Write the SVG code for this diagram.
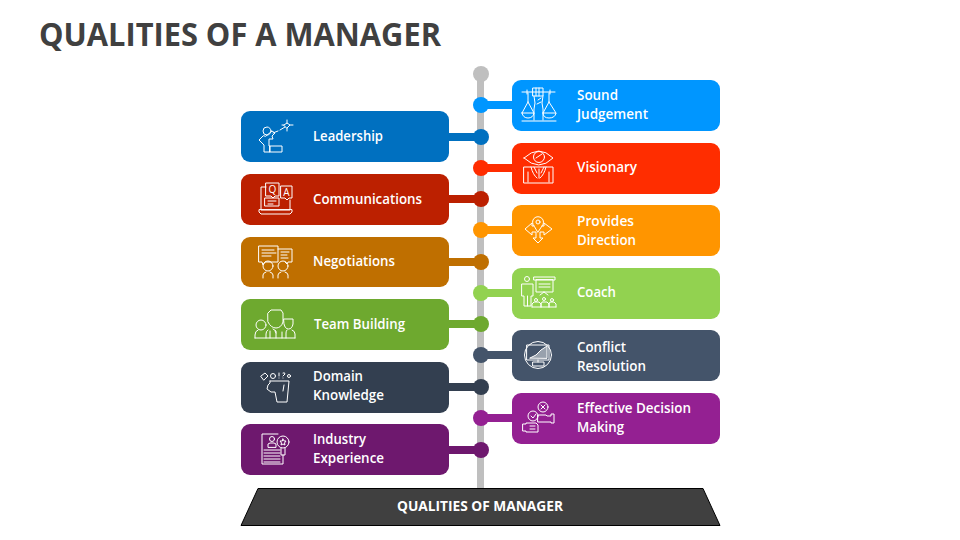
<svg xmlns="http://www.w3.org/2000/svg" width="960" height="540" viewBox="0 0 960 540">
<style>
.t{font-family:"Open Sans","Liberation Sans",sans-serif;font-size:14.5px;font-weight:600;fill:#fff}
.g{font-family:"Open Sans","Liberation Sans",sans-serif;font-size:10px;fill:#fff;text-anchor:middle}
.i{fill:none;stroke:#fff;stroke-width:1;stroke-linejoin:round;stroke-linecap:round}
.title{font-family:"Open Sans","Liberation Sans",sans-serif;font-size:33px;font-weight:700;fill:#404040}
.base{font-family:"Open Sans","Liberation Sans",sans-serif;font-size:14px;font-weight:700;fill:#fff}
.c{stroke-width:8;fill:none}
</style>
<rect width="960" height="540" fill="#fff"/>
<text class="title" x="39" y="46" textLength="402" lengthAdjust="spacingAndGlyphs">QUALITIES OF A MANAGER</text>
<g id="pole"><rect x="477" y="74" width="7" height="416" fill="#bfbfbf"/><circle cx="481" cy="74" r="8" fill="#bfbfbf"/></g>
<g id="connectors">
<path class="c" stroke="#0096ff" d="M481 105H512"/><circle cx="481" cy="105" r="8" fill="#0096ff"/>
<path class="c" stroke="#0070c0" d="M449 137H481"/><circle cx="481" cy="137" r="8" fill="#0070c0"/>
<path class="c" stroke="#ff2d00" d="M481 168H512"/><circle cx="481" cy="168" r="8" fill="#ff2d00"/>
<path class="c" stroke="#bc2000" d="M449 199H481"/><circle cx="481" cy="199" r="8" fill="#bc2000"/>
<path class="c" stroke="#ff9500" d="M481 230H512"/><circle cx="481" cy="230" r="8" fill="#ff9500"/>
<path class="c" stroke="#bf6f00" d="M449 262H481"/><circle cx="481" cy="262" r="8" fill="#bf6f00"/>
<path class="c" stroke="#92d250" d="M481 293H512"/><circle cx="481" cy="293" r="8" fill="#92d250"/>
<path class="c" stroke="#6ea92f" d="M449 324H481"/><circle cx="481" cy="324" r="8" fill="#6ea92f"/>
<path class="c" stroke="#44546a" d="M481 355H512"/><circle cx="481" cy="355" r="8" fill="#44546a"/>
<path class="c" stroke="#333f50" d="M449 387H481"/><circle cx="481" cy="387" r="8" fill="#333f50"/>
<path class="c" stroke="#942092" d="M481 418H512"/><circle cx="481" cy="418" r="8" fill="#942092"/>
<path class="c" stroke="#6e186e" d="M449 450H481"/><circle cx="481" cy="450" r="8" fill="#6e186e"/>
</g>
<g id="sound-judgement"><rect x="512" y="80" width="208" height="51" rx="9" fill="#0096ff"/>
<g class="i"><path d="M522 92H555M527 90V94M550 90V94M533 88h10v8h-10zM536 88v8M539 88v8M534 96l1 7-1 6v11M543 96l-1 7 1 6v11M528 93v9M528 102l-6 11M528 102l6 11M549 93v9M549 102l-6 11M549 102l7 11M522 113h12q-1 5-6 5t-6-5zM543 113h13q-1 5-7 5t-6-5zM522 121H556M538 100l3-2M537 104l4-2"/></g>
<text class="t" x="577" y="100" textLength="41" lengthAdjust="spacingAndGlyphs">Sound</text><text class="t" x="577" y="119" textLength="71" lengthAdjust="spacingAndGlyphs">Judgement</text></g>
<g id="leadership"><rect x="241" y="111" width="208" height="51" rx="9" fill="#0070c0"/>
<g class="i"><circle cx="267" cy="131" r="4"/><path d="M273 133l5-2M280 130l5-3M263 136l-4 4 5 5v7h6v-6h-1v-7h4l-1-3 3-3-3-2-6 5zM270 146h12v6h-12z"/><path d="M284 125l3-2 3 2-3 3zM287 120v3M287 128v3M282 125h2M290 125h3"/></g>
<text class="t" x="313" y="141" textLength="70" lengthAdjust="spacingAndGlyphs">Leadership</text></g>
<g id="visionary"><rect x="512" y="143" width="208" height="51" rx="9" fill="#ff2d00"/>
<g class="i"><path d="M524 158q15-14 29 0q-14 14-29 0z"/><circle cx="539" cy="157" r="5.500"/><path d="M536 158l3-2 3-2"/><path d="M524 167h29v16h-29zM531 167q2 8 6 11M546 167q-2 8-6 11M539 169v9M534 167l3 6M544 167l-3 6M528 172v10M549 172v10"/></g>
<text class="t" x="577" y="172" textLength="60" lengthAdjust="spacingAndGlyphs">Visionary</text></g>
<g id="communications"><rect x="241" y="174" width="208" height="51" rx="9" fill="#bc2000"/>
<g class="i"><path d="M266 187h-5v23h29v-10M259 210v2l2 2h29l2-2v-2z"/><path d="M266 183h13v13h-4l-2 2-2-2h-5zM281 186h11v12h-3l-2 2-2-2h-4z"/><path d="M265 198h14v8h-14zM268 201h8M268 204h5"/></g>
<text class="g" x="272.500" y="193">Q</text><text class="g" x="286.500" y="196">A</text>
<text class="t" x="313" y="204" textLength="109" lengthAdjust="spacingAndGlyphs">Communications</text></g>
<g id="provides-direction"><rect x="512" y="205" width="208" height="51" rx="9" fill="#ff9500"/>
<g class="i"><circle cx="538" cy="222" r="2"/><path d="M534 226a5.500 5.500 0 1 1 8 0l-4 6zM534 226h-2v-3l-7 6 7 6v-3h4v6h-3l5 5 5-5h-3v-6h4v3l8-6-8-6v3h-2"/></g>
<text class="t" x="577" y="226" textLength="57" lengthAdjust="spacingAndGlyphs">Provides</text><text class="t" x="577" y="245" textLength="59" lengthAdjust="spacingAndGlyphs">Direction</text></g>
<g id="negotiations"><rect x="241" y="237" width="208" height="50" rx="9" fill="#bf6f00"/>
<g class="i"><path d="M259 246h19v16h-13l-2 3-1-3h-3zM262 250h12M262 253h14M262 256h9M278 249h14v13h-4l-1 2-2-2M281 252h8M281 255h6M281 258h7"/><circle cx="268" cy="266" r="5"/><circle cx="283" cy="266" r="5"/><path d="M263 278v-3q0-2 3-3M273 278v-3q0-2-3-3M278 278v-3q0-2 3-3M288 278v-3q0-2-3-3"/></g>
<text class="t" x="313" y="266" textLength="82" lengthAdjust="spacingAndGlyphs">Negotiations</text></g>
<g id="coach"><rect x="512" y="268" width="208" height="51" rx="9" fill="#92d250"/>
<g class="i"><circle cx="527" cy="279" r="2.500"/><path d="M522 284h11v12h-2v10h-7v-10h-2zM527.500 296v10M534 277h21v3h-21zM536 280v12h17v-12zM539 284h11M539 287h11M544 292l-4 3M544 292l4 3M532 307v-3l2-2h5l2 2v3M541 307v-3l1-2h5l2 2v3M549 307v-3l1-2h4l2 2v3M532 307h24"/><circle cx="536" cy="300" r="1.500"/><circle cx="544" cy="299" r="1.500"/><circle cx="552" cy="300" r="1.500"/></g>
<text class="t" x="577" y="297" textLength="39" lengthAdjust="spacingAndGlyphs">Coach</text></g>
<g id="team-building"><rect x="241" y="299" width="208" height="51" rx="9" fill="#6ea92f"/>
<g class="i"><circle cx="261" cy="325" r="5"/><path d="M268 313l3-3h10l2 3v9q-2 6-7 6t-8-6zM284 319h9v5q-1 5-4.500 5t-4.500-5zM255 338v-3q0-4 3-5M266 338v-4q0-3 2-4M270 338v-7M276 338v-7l-3-2M282 338v-6M286 338v-5q0-2 1-3M295 338v-4q0-3-3-4M255 338h40M275 331l1 2"/></g>
<text class="t" x="314" y="329" textLength="91" lengthAdjust="spacingAndGlyphs">Team Building</text></g>
<g id="conflict-resolution"><rect x="512" y="330" width="208" height="51" rx="9" fill="#44546a"/>
<g class="i"><circle cx="538" cy="355" r="13.500"/><path d="M527 345h22v15h-22zM538 360v2M533 362h11v4h-11z"/><path d="M530 358l6-3 5-5 6-4v12z" fill="#fff" fill-opacity=".45"/></g>
<text class="t" x="577" y="352" textLength="49" lengthAdjust="spacingAndGlyphs">Conflict</text><text class="t" x="577" y="371" textLength="69" lengthAdjust="spacingAndGlyphs">Resolution</text></g>
<g id="domain-knowledge"><rect x="241" y="362" width="208" height="51" rx="9" fill="#333f50"/>
<g class="i"><path d="M261 376l4-3 3 3-4 4z"/><circle cx="273" cy="376" r="2.500"/><circle cx="289" cy="376" r="1.500"/><path d="M279 373v3M279 378v0M283 373q2-1 2 1l-2 2M283 378v0M270 381h19l-2 21h-10l-2-10h-4l-4-3 1-4 2-2v-2M284 385l-1 6"/></g>
<text class="t" x="313" y="381" textLength="50" lengthAdjust="spacingAndGlyphs">Domain</text><text class="t" x="313" y="400" textLength="71" lengthAdjust="spacingAndGlyphs">Knowledge</text></g>
<g id="effective-decision-making"><rect x="512" y="393" width="208" height="51" rx="9" fill="#942092"/>
<g class="i"><circle cx="543" cy="407" r="5"/><path d="M541 405l4 4M545 405l-4 4M538 415h8l1 1h4v-2h3v9h-3v-1h-13z"/><circle cx="533" cy="416" r="5"/><path d="M531 416l2 2 3-4M523 424h3v-1h10l2 2v7h-12v-1h-3zM530 426h5M530 429h5"/></g>
<text class="t" x="577" y="413" textLength="114" lengthAdjust="spacingAndGlyphs">Effective Decision</text><text class="t" x="577" y="432" textLength="47" lengthAdjust="spacingAndGlyphs">Making</text></g>
<g id="industry-experience"><rect x="241" y="424" width="208" height="51" rx="9" fill="#6e186e"/>
<g class="i"><path d="M278 434h-16v30h21v-9"/><circle cx="272" cy="439" r="2.500"/><path d="M268 447v-3l2-1h4l2 1v3zM264 450h16M264 453h16M264 456h16M264 459h16M264 462h16"/><circle cx="283" cy="442" r="6"/><path d="M283 439l1 2h2l-1.500 2 .5 2-2-1-2 1 .5-2-1.500-2h2zM281 448v7h4v-7"/></g>
<text class="t" x="313" y="444" textLength="53" lengthAdjust="spacingAndGlyphs">Industry</text><text class="t" x="313" y="463" textLength="71" lengthAdjust="spacingAndGlyphs">Experience</text></g>
<g id="base"><path d="M258 488.500H703L720 525.500H241Z" fill="#404040" stroke="#000" stroke-width="1"/>
<text class="base" x="480" y="511" text-anchor="middle" textLength="166" lengthAdjust="spacingAndGlyphs">QUALITIES OF MANAGER</text></g>
</svg>
